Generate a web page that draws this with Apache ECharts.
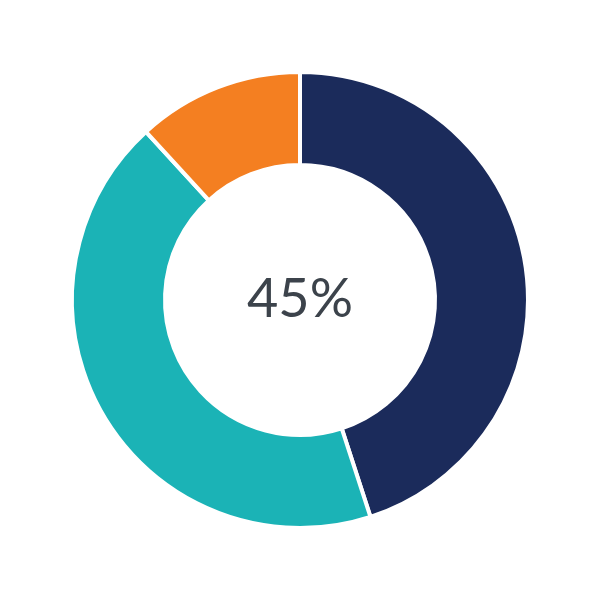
<!DOCTYPE html>
<html><head><meta charset="utf-8">
<script src="https://cdn.jsdelivr.net/npm/echarts@6/dist/echarts.min.js"></script>
<style>html,body{margin:0;padding:0;background:#fff}#c{width:600px;height:600px}</style>
</head><body><div id="c"></div>
<script>
const categories = ['A', 'B', 'C'];
const values = [45, 43.2, 11.8];
const colors = ['#1b2b5b', '#1bb3b6', '#f47f21'];
const centerLabel = '45%';

const chart = echarts.init(document.getElementById('c'), null, {renderer: 'canvas'});
chart.setOption({
  animation: false,
  graphic: [{
    type: 'text', left: 'center', top: 'middle',
    style: {text: centerLabel, fontFamily: 'Lato', fontSize: 54, fill: '#3c434b', textAlign: 'center'}
  }],
  series: [{
    type: 'pie',
    center: ['50%', '50%'],
    radius: [135, 228],
    startAngle: 90,
    clockwise: true,
    label: {show: false},
    labelLine: {show: false},
    itemStyle: {borderColor: '#fff', borderWidth: 4},
    data: categories.map((c, i) => ({name: c, value: values[i], itemStyle: {color: colors[i]}}))
  }]
});
</script></body></html>
